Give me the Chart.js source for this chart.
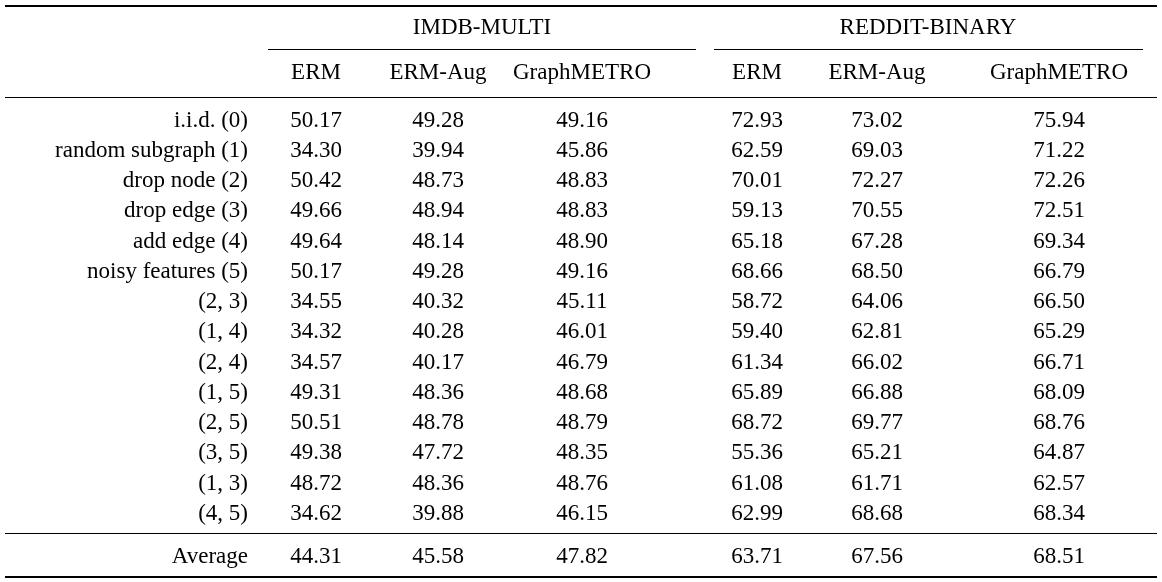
<!DOCTYPE html>
<html>
<head>
<meta charset="utf-8">
<script src="https://cdn.jsdelivr.net/npm/chart.js@4/dist/chart.umd.min.js"></script>
<style>
html, body { margin: 0; padding: 0; background: #fff; }
#wrap { width: 1162px; height: 582px; }
</style>
</head>
<body>
<div id="wrap"><canvas id="c"></canvas></div>
<script>
// table contents
const groups = ['IMDB-MULTI', 'REDDIT-BINARY'];
const methods = ['ERM', 'ERM-Aug', 'GraphMETRO', 'ERM', 'ERM-Aug', 'GraphMETRO'];
const rowLabels = ['i.i.d. (0)', 'random subgraph (1)', 'drop node (2)', 'drop edge (3)', 'add edge (4)',
	'noisy features (5)', '(2, 3)', '(1, 4)', '(2, 4)', '(1, 5)', '(2, 5)', '(3, 5)', '(1, 3)', '(4, 5)', 'Average'];

const imdbERM    = ['50.17','34.30','50.42','49.66','49.64','50.17','34.55','34.32','34.57','49.31','50.51','49.38','48.72','34.62','44.31'];
const imdbAug    = ['49.28','39.94','48.73','48.94','48.14','49.28','40.32','40.28','40.17','48.36','48.78','47.72','48.36','39.88','45.58'];
const imdbMetro  = ['49.16','45.86','48.83','48.83','48.90','49.16','45.11','46.01','46.79','48.68','48.79','48.35','48.76','46.15','47.82'];
const redditERM  = ['72.93','62.59','70.01','59.13','65.18','68.66','58.72','59.40','61.34','65.89','68.72','55.36','61.08','62.99','63.71'];
const redditAug  = ['73.02','69.03','72.27','70.55','67.28','68.50','64.06','62.81','66.02','66.88','69.77','65.21','61.71','68.68','67.56'];
const redditMetro= ['75.94','71.22','72.26','72.51','69.34','66.79','66.50','65.29','66.71','68.09','68.76','64.87','62.57','68.34','68.51'];

// layout (pixel units of the linear scales)
const colX = [316, 438, 582, 757, 877, 1059];
const labelX = 248;
const rowY = [121,151,181,211,242,272,302,332,363,393,423,453,484,514,557];
const FONT = '23px "Liberation Serif", "DejaVu Serif", serif';

const columns = [imdbERM, imdbAug, imdbMetro, redditERM, redditAug, redditMetro];
const points = [];
columns.forEach((col, c) => col.forEach((v, r) => points.push({ x: colX[c], y: rowY[r], t: v })));
rowLabels.forEach((l, r) => points.push({ x: labelX, y: rowY[r], t: l, right: true }));

const tablePlugin = {
	id: 'table',
	afterDatasetsDraw(chart) {
		const ctx = chart.ctx;
		const xs = chart.scales.x, ys = chart.scales.y;
		const px = v => xs.getPixelForValue(v), py = v => ys.getPixelForValue(v);
		ctx.save();
		ctx.fillStyle = '#000';
		ctx.font = FONT;
		ctx.textBaseline = 'middle';
		chart.data.datasets[0].data.forEach(p => {
			ctx.textAlign = p.right ? 'right' : 'center';
			ctx.fillText(p.t, px(p.x), py(p.y));
		});
		ctx.textAlign = 'center';
		ctx.fillText(groups[0], px(482), py(28));
		ctx.fillText(groups[1], px(928), py(28));
		methods.forEach((m, i) => ctx.fillText(m, px(colX[i]), py(73)));

		const hline = (x0, x1, y, w) => {
			ctx.lineWidth = w;
			ctx.beginPath();
			ctx.moveTo(px(x0), Math.round(py(y)) + (w % 2 ? 0.5 : 0));
			ctx.lineTo(px(x1), Math.round(py(y)) + (w % 2 ? 0.5 : 0));
			ctx.stroke();
		};
		ctx.strokeStyle = '#000';
		hline(5, 1157, 6, 2);
		hline(268, 696, 49, 1);
		hline(714, 1143, 49, 1);
		hline(5, 1157, 97, 1);
		hline(5, 1157, 533, 1);
		hline(5, 1157, 577, 2);
		ctx.restore();
	}
};

new Chart(document.getElementById('c'), {
	type: 'scatter',
	data: { datasets: [{ data: points, pointRadius: 0 }] },
	options: {
		responsive: true,
		maintainAspectRatio: false,
		animation: false,
		layout: { padding: 0 },
		plugins: { legend: { display: false }, tooltip: { enabled: false } },
		scales: {
			x: { type: 'linear', min: 0, max: 1162, display: false },
			y: { type: 'linear', min: 0, max: 582, reverse: true, display: false }
		}
	},
	plugins: [tablePlugin]
});
</script>
</body>
</html>
